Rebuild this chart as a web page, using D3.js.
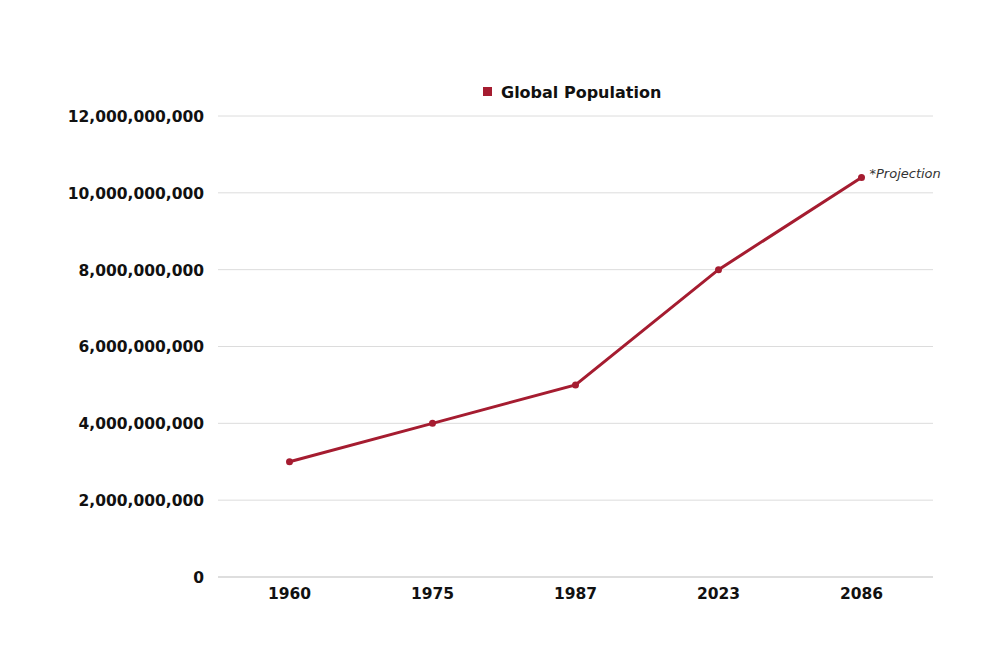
<!DOCTYPE html>
<html>
<head>
<script src="https://cdn.jsdelivr.net/npm/d3@7"></script>
<style>
  body { margin: 0; background: #fff; font-family: 'DejaVu Sans', sans-serif; }
  .tick text { fill: #111; font-weight: 700; font-size: 15.5px; font-family: 'DejaVu Sans', sans-serif; }
</style>
</head>
<body>
<script>
  // data
  var years = ["1960", "1975", "1987", "2023", "2086"];
  var population = [3000000000, 4000000000, 5000000000, 8000000000, 10400000000];
  var yTicks = [0, 2000000000, 4000000000, 6000000000, 8000000000, 10000000000, 12000000000];
  var seriesName = "Global Population";
  var color = "#a51c30";

  var width = 1000, height = 667;
  var margin = {top: 116, right: 67, bottom: 90, left: 218};

  var svg = d3.select("body").append("svg")
      .attr("width", width)
      .attr("height", height);

  var x = d3.scaleBand()
      .domain(years)
      .range([margin.left, width - margin.right])
      .padding(0);

  var y = d3.scaleLinear()
      .domain([0, 12000000000])
      .range([height - margin.bottom, margin.top]);

  // gridlines
  svg.append("g")
    .selectAll("line")
    .data(yTicks)
    .enter().append("line")
      .attr("x1", margin.left)
      .attr("x2", width - margin.right)
      .attr("y1", function(d) { return y(d); })
      .attr("y2", function(d) { return y(d); })
      .attr("stroke", function(d) { return d === 0 ? "#bdbdbd" : "#dcdcdc"; })
      .attr("stroke-width", 1);

  // y axis
  var yAxis = svg.append("g")
      .attr("transform", "translate(" + (margin.left - 14) + ",0)")
      .call(d3.axisLeft(y).tickValues(yTicks).tickFormat(d3.format(",")).tickSize(0).tickPadding(0));
  yAxis.select(".domain").remove();
  yAxis.selectAll("text").attr("dy", "0.35em");

  // x axis
  var xAxis = svg.append("g")
      .attr("transform", "translate(0," + (height - margin.bottom) + ")")
      .call(d3.axisBottom(x).tickSize(0).tickPadding(11));
  xAxis.select(".domain").remove();

  // line
  var line = d3.line()
      .x(function(d, i) { return x(years[i]) + x.bandwidth() / 2; })
      .y(function(d) { return y(d); });

  svg.append("path")
      .datum(population)
      .attr("d", line)
      .attr("fill", "none")
      .attr("stroke", color)
      .attr("stroke-width", 3);

  svg.selectAll(".dot")
      .data(population)
      .enter().append("circle")
      .attr("class", "dot")
      .attr("cx", function(d, i) { return x(years[i]) + x.bandwidth() / 2; })
      .attr("cy", function(d) { return y(d); })
      .attr("r", 3.5)
      .attr("fill", color);

  // projection note
  var last = population.length - 1;
  svg.append("text")
      .attr("x", x(years[last]) + x.bandwidth() / 2 + 8)
      .attr("y", y(population[last]) + 1)
      .attr("font-size", 13)
      .attr("font-style", "italic")
      .attr("fill", "#333")
      .text("*Projection");

  // legend
  var legend = svg.append("g").attr("transform", "translate(483,87)");
  legend.append("rect")
      .attr("width", 9).attr("height", 9)
      .attr("fill", color);
  legend.append("text")
      .attr("x", 18).attr("y", 10.5)
      .attr("font-size", 16)
      .attr("font-weight", 700)
      .attr("fill", "#111")
      .text(seriesName);
</script>
</body>
</html>
